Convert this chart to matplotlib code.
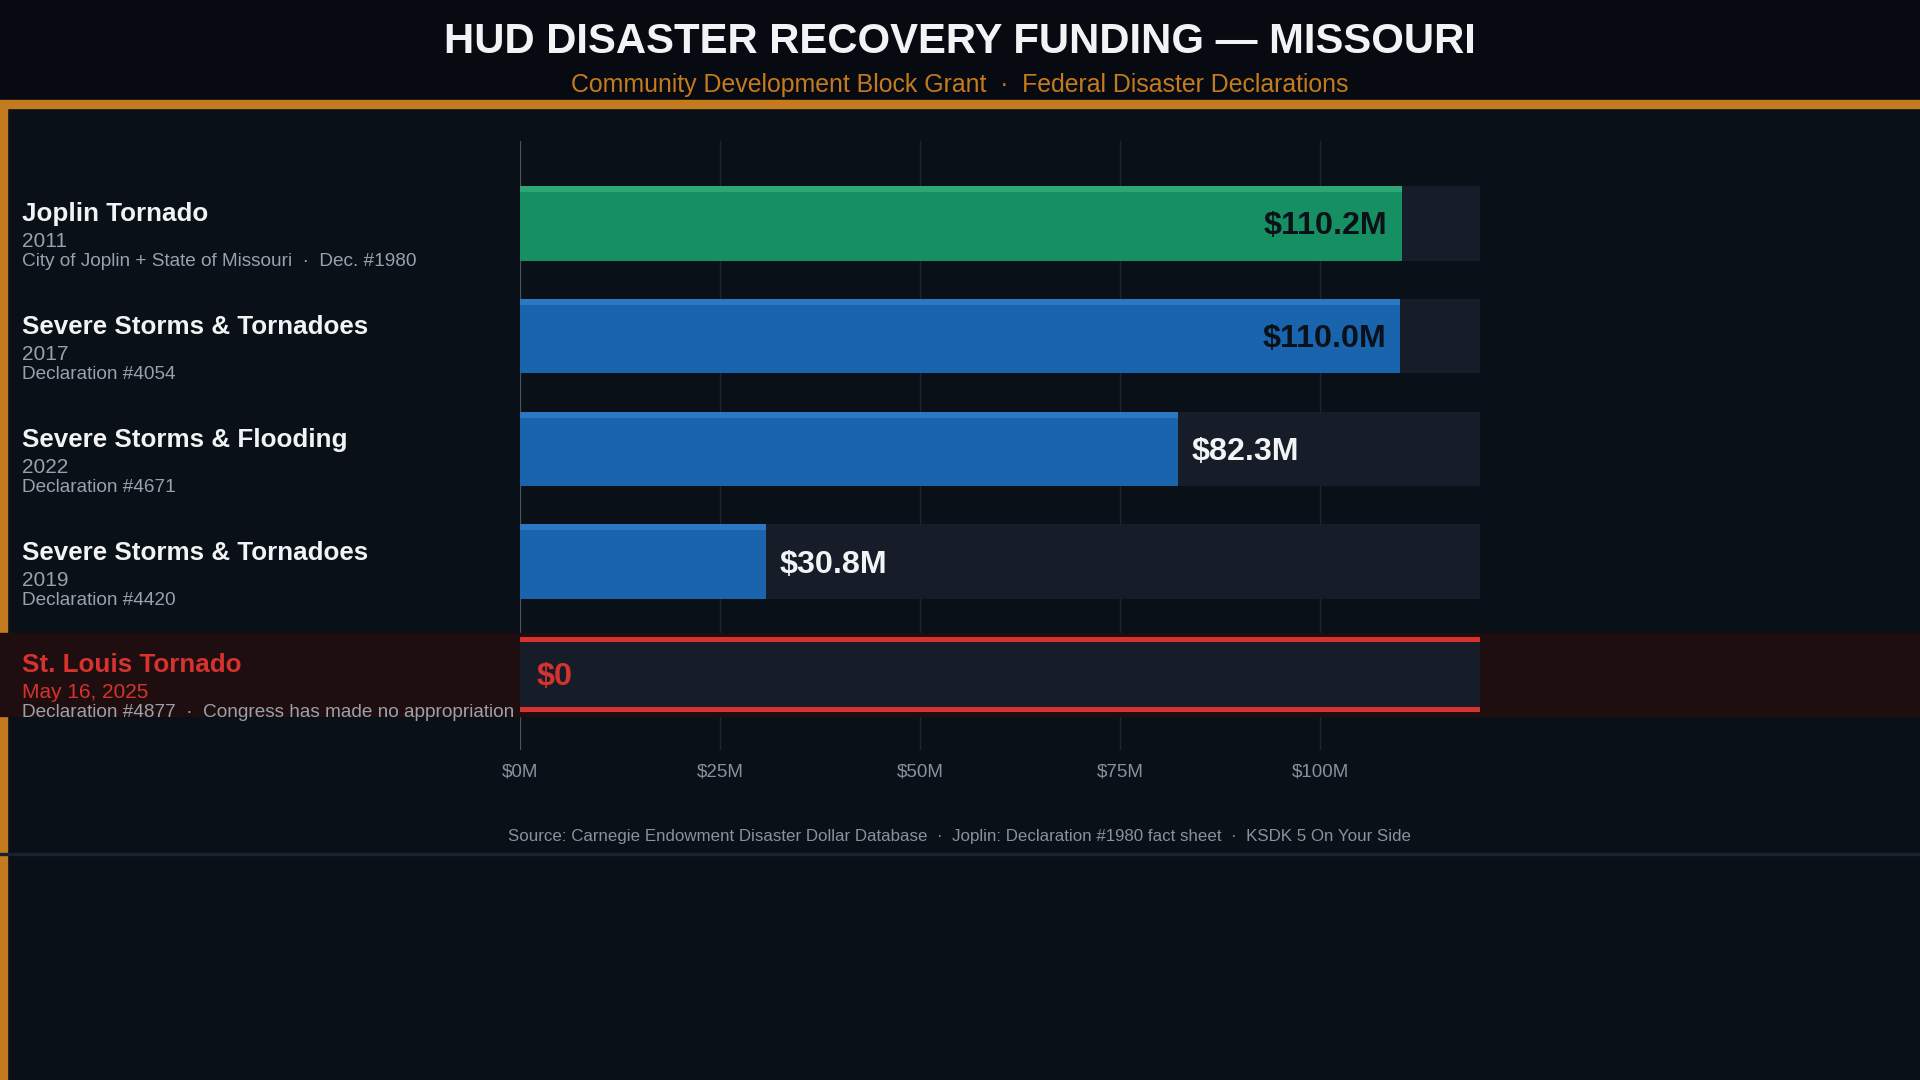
import numpy as np
import matplotlib as mpl
import matplotlib.pyplot as plt
from matplotlib.patches import Rectangle
from matplotlib.transforms import blended_transform_factory, offset_copy

# ── Data ─────────────────────────────────────────────────────────────────────
EVENTS = ["Joplin Tornado", "Severe Storms & Tornadoes", "Severe Storms & Flooding",
          "Severe Storms & Tornadoes", "St. Louis Tornado"]
DATES = ["2011", "2017", "2022", "2019", "May 16, 2025"]
NOTES = ["City of Joplin + State of Missouri  \u00b7  Dec. #1980",
         "Declaration #4054", "Declaration #4671", "Declaration #4420",
         "Declaration #4877  \u00b7  Congress has made no appropriation"]
FUNDING_M = [110.2, 110.0, 82.3, 30.8, 0.0]
VALUE_LABELS = ["$110.2M", "$110.0M", "$82.3M", "$30.8M", "$0"]
TICKS_M = [0, 25, 50, 75, 100]
TICK_LABELS = ["$0M", "$25M", "$50M", "$75M", "$100M"]
X_MAX = 120

TITLE = "HUD DISASTER RECOVERY FUNDING \u2014 MISSOURI"
SUBTITLE = "Community Development Block Grant  \u00b7  Federal Disaster Declarations"
SOURCE = ("Source: Carnegie Endowment Disaster Dollar Database  \u00b7  "
          "Joplin: Declaration #1980 fact sheet  \u00b7  KSDK 5 On Your Side")

# ── Style ────────────────────────────────────────────────────────────────────
BG = "#0a1018"
HEADER_BG = "#070b11"
ORANGE = "#c47a1e"
TRACK = "#161d29"
GREEN, GREEN_HI = "#168f62", "#2ea676"
BLUE, BLUE_HI = "#1a63ad", "#2d78c4"
RED = "#d6332f"
RED_BAND = "#1f0e0f"
WHITE = "#f2f3f5"
GRAY = "#9aa1ab"
GRID = "#1e2631"
DARK_TXT = "#0b1119"

mpl.rcParams.update({
    "font.family": ["Liberation Sans", "DejaVu Sans"],
    "figure.dpi": 100,
})

W, H = 1920, 1080
fig = plt.figure(figsize=(W / 100, H / 100), facecolor=BG)

# axes box in pixels
AX_L, AX_R, AX_T, AX_B = 520, 1480, 141, 750
ax = fig.add_axes([AX_L / W, 1 - AX_B / H, (AX_R - AX_L) / W, (AX_B - AX_T) / H])
ax.set_facecolor("none")
ax.set_xlim(0, X_MAX)
ax.set_ylim(4.67, -0.73)
ROW_PX = (AX_B - AX_T) / 5.4
BAR_H = 0.662
HI_H = 6 / ROW_PX
RED_LW = 5 / ROW_PX

# header, accent line, left strip, separator
fig.patches.append(Rectangle((0, 1 - 100 / H), 1, 100 / H, transform=fig.transFigure,
                             color=HEADER_BG, zorder=-2))
fig.patches.append(Rectangle((0, 1 - 108 / H), 1, 8 / H, transform=fig.transFigure,
                             color=ORANGE, zorder=-2))
fig.patches.append(Rectangle((0, 0), 7 / W, 1 - 108 / H, transform=fig.transFigure,
                             color=ORANGE, zorder=-2))
fig.patches.append(Rectangle((0, 1 - 855 / H), 1, 2 / H, transform=fig.transFigure,
                             color="#1a222d", zorder=-1))

fig.text(0.5, 1 - 42 / H, TITLE, ha="center", va="center", color=WHITE,
         fontsize=30.2, fontweight="bold")
fig.text(0.5, 1 - 85 / H, SUBTITLE, ha="center", va="center", color=ORANGE,
         fontsize=17.9)

# grid
for t in TICKS_M:
    ax.axvline(t, color="#4a525e" if t == 0 else GRID,
               lw=1.6 if t == 0 else 1.0, zorder=0)
ax.set_xticks(TICKS_M)
ax.set_xticklabels(TICK_LABELS)
ax.tick_params(axis="x", length=0, pad=10, labelsize=13.5, labelcolor="#8a919c")
ax.set_yticks([])
for s in ax.spines.values():
    s.set_visible(False)

y = np.arange(len(FUNDING_M))
vmax = max(FUNDING_M)
lab_tr = blended_transform_factory(fig.transFigure, ax.transData)
VAL_FS = 23.2

for i, (val, lbl) in enumerate(zip(FUNDING_M, VALUE_LABELS)):
    unfunded = val == 0
    if unfunded:
        band = Rectangle((0, y[i] - 0.368), 1, 0.736, transform=lab_tr,
                         color=RED_BAND, zorder=0.5, clip_on=False)
        ax.add_patch(band)
    ax.barh(y[i], X_MAX, height=BAR_H, color=TRACK, zorder=1)
    if unfunded:
        for edge in (-1, 1):
            ax.barh(y[i] + edge * (BAR_H / 2 - RED_LW / 2), X_MAX, height=RED_LW,
                    color=RED, zorder=2)
        ax.text(0, y[i], lbl,
                transform=offset_copy(ax.transData, fig=fig, x=17, y=-3, units="dots"),
                ha="left", va="center", color=RED, fontsize=VAL_FS, fontweight="bold", zorder=4)
    else:
        c, chi = (GREEN, GREEN_HI) if i == 0 else (BLUE, BLUE_HI)
        ax.barh(y[i], val, height=BAR_H, color=c, zorder=2)
        ax.barh(y[i] - BAR_H / 2 + HI_H / 2, val, height=HI_H, color=chi, zorder=2)
        inside = val / vmax > 0.9
        if inside:
            ax.text(val, y[i], lbl,
                    transform=offset_copy(ax.transData, fig=fig, x=-14, y=-3, units="dots"),
                    ha="right", va="center", color=DARK_TXT, fontsize=VAL_FS,
                    fontweight="bold", zorder=4)
        else:
            ax.text(val, y[i], lbl,
                    transform=offset_copy(ax.transData, fig=fig, x=13, y=-3, units="dots"),
                    ha="left", va="center", color=WHITE, fontsize=VAL_FS,
                    fontweight="bold", zorder=4)

    # left-hand labels
    x0 = 22 / W
    ax.text(x0, y[i], EVENTS[i], transform=offset_copy(lab_tr, fig=fig, y=2, units="dots"),
            ha="left", va="baseline", color=RED if unfunded else WHITE,
            fontsize=18.7, fontweight="bold", clip_on=False)
    ax.text(x0, y[i], DATES[i], transform=offset_copy(lab_tr, fig=fig, y=-24, units="dots"),
            ha="left", va="baseline", color=RED if unfunded else GRAY,
            fontsize=15, clip_on=False)
    ax.text(x0, y[i], NOTES[i], transform=offset_copy(lab_tr, fig=fig, y=-43, units="dots"),
            ha="left", va="baseline", color=GRAY, fontsize=13.7, clip_on=False)

fig.text(0.5, 1 - 837 / H, SOURCE, ha="center", va="center", color="#8a919c",
         fontsize=12.2)

fig.savefig("out.png", dpi=100, facecolor=BG)
